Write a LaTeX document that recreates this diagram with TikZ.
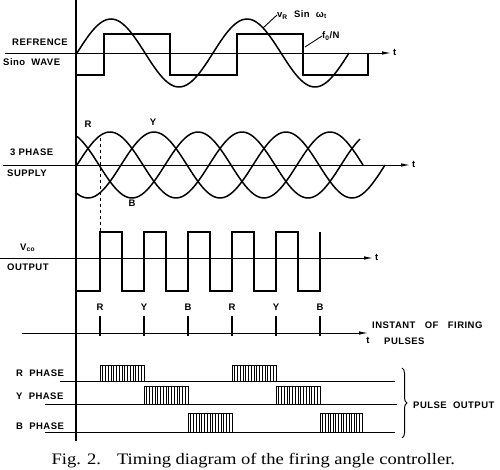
\documentclass[tikz,border=0pt]{standalone}
\usepackage{fontspec}
\setmainfont[FakeStretch=1.16]{Liberation Serif}
\newfontfamily\lblfont[LetterSpace=5]{Liberation Sans}
\usetikzlibrary{arrows.meta,decorations.pathreplacing}

\begin{document}
\begin{tikzpicture}[x=1pt,y=-1pt,
        lbl/.style={font=\lblfont\bfseries\fontsize{9.5}{11}\selectfont, inner sep=0pt, anchor=west},
        tag/.style={lbl, anchor=center},
        axline/.style={line width=0.9pt, -{Latex[length=9pt,width=3.5pt]}, shorten >=2pt},
        wave/.style={line width=1.5pt},
        burst/.style={line width=0.6pt}]
        \useasboundingbox (0,0) rectangle (500,470);
        \draw[line width=1.8pt] (76,0) -- (76,441);

        \node[lbl] (ref) at (12,42) {REFRENCE};
        \node[lbl] (sinewave) at (3,62) {Sino\ \ WAVE};
        \node[lbl] (t1) at (393,52) {t};
        \draw[axline] (5,53) -- (t1.west |- 0,53);
        \draw[wave] plot[domain=77:349, samples=120] (\x,{53-34*sin((\x-77)/68*180)});
        \draw[wave] (77,75) -| (104,34) -| (170,75) -| (237,34) -| (303,75) -| (368,53);
        \node[lbl] (vr) at (277,15) {v\textsubscript{R}\ \ Sin\ \ ω\textsubscript{t}};
        \coordinate (vrfoot) at (263,28);
        \draw[line width=0.9pt] (vrfoot) -- (vr.west);
        \node[lbl] (fon) at (322,36) {f\textsubscript{0}/N};
        \coordinate (fonfoot) at (305,47);
        \draw[line width=0.9pt] (fonfoot) -- (fon.west);

        \node[lbl] (threephase) at (10,152) {3\ PHASE};
        \node[lbl] (supply) at (7,173) {SUPPLY};
        \node[lbl] (t2) at (412,164) {t};
        \draw[axline] (3,165) -- (t2.west |- 0,165);
        \draw[wave] plot[domain=77:360, samples=120] (\x,{165-33*sin((\x-77)/11*30)});
        \draw[wave] plot[domain=77:385, samples=120] (\x,{165-33*sin((\x-77)/11*30-120)});
        \draw[wave] plot[domain=77:363, samples=120] (\x,{165-33*sin((\x-77)/11*30+120)});
        \node[tag] (rlab) at (88,124) {R};
        \node[tag] (ylab) at (153,122) {Y};
        \node[tag] (blab) at (132,203) {B};
        \draw[dashed, line width=0.9pt] (100,138) -- (100,232);

        \node[lbl] (vco) at (20,248) {V\textsubscript{co}};
        \node[lbl] (vcoout) at (7,267) {OUTPUT};
        \node[lbl] (t3) at (375,257) {t};
        \draw[axline] (0,258) -- (t3.west |- 0,258);
        \draw[wave] (77,291) -| (100,232) -| (122,291) -| (144,232) -| (166,291) -| (188,232)
                -| (210,291) -| (232,232) -| (254,291) -| (276,232) -| (298,291) -| (320,232);

        \coordinate (firestart) at (22,333);
        \coordinate (fireend) at (368,333);
        \draw[axline, shorten >=0pt] (firestart) -- (fireend);
        \node[lbl, anchor=north] (t4) at (368,337) {t};
        \foreach \x/\p in {100/R,144/Y,188/B,232/R,276/Y,320/B} {
                \draw[line width=1.2pt] (\x,316) -- (\x,336);
                \node[tag, anchor=south] (fire\x) at (\x,311) {\p};
        }
        \node[lbl] (instant) at (372,325) {INSTANT\ \ \ OF\ \ \ FIRING};
        \node[lbl] (pulses) at (384,341) {PULSES};

        \node[lbl] (rphase) at (16,373) {R\ \ PHASE};
        \node[lbl] (yphase) at (16,396) {Y\ \ PHASE};
        \node[lbl] (bphase) at (16,426) {B\ \ PHASE};
        \draw[line width=0.9pt] (60,381) -- (395,381);
        \draw[line width=0.9pt] (45,404) -- (397,404);
        \draw[line width=0.9pt] (45,432) -- (395,432);
        \foreach \a/\b/\t/\u in {100/144/365/381, 232/276/365/381, 144/188/386/404,
                276/320/386/404, 188/232/413/432, 320/362/413/432} {
                \draw[burst, line width=0.9pt] (\a,\u) |- (\b,\t) -- (\b,\u);
                \foreach \h in {1,...,15}
                        \draw[burst] ({\a+(\b-\a)*\h/16},\t) -- ({\a+(\b-\a)*\h/16},\u);
        }
        \draw[line width=1pt, decorate, decoration={brace, amplitude=5pt}] (402,368) -- (402,438);
        \node[lbl] (pulseout) at (413,405) {PULSE\ \ OUTPUT};

        \node[anchor=west, font=\fontsize{16}{18}\selectfont] (caption) at (48,461)
                {Fig. 2.\hspace{1em}Timing diagram of the firing angle controller.};
\end{tikzpicture}
\end{document}
